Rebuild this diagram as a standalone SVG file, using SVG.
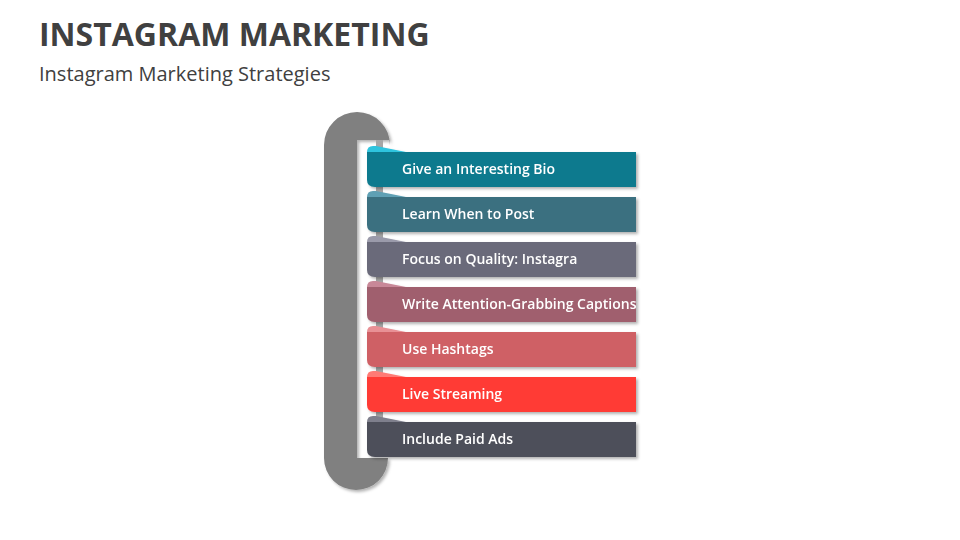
<svg xmlns="http://www.w3.org/2000/svg" width="960" height="540" viewBox="0 0 960 540">
<defs>
<filter id="sh" x="-10%" y="-10%" width="130%" height="130%"><feDropShadow dx="2" dy="2" stdDeviation="1.5" flood-color="#000" flood-opacity="0.3"/></filter>
<style>
.t{font-family:"Open Sans","Liberation Sans",sans-serif;font-size:14px;fill:#fff;font-weight:600}
.pin{fill:#a6a6a6}
</style>
</defs>
<rect width="960" height="540" fill="#fff"/>
<text x="39" y="46" font-family="'Open Sans','Liberation Sans',sans-serif" font-size="32" font-weight="700" fill="#404040">INSTAGRAM MARKETING</text>
<text x="39" y="81" font-family="'Open Sans','Liberation Sans',sans-serif" font-size="20" fill="#404040">Instagram Marketing Strategies</text>
<g id="bracket" filter="url(#sh)">
<path d="M324 145 A33 33 0 0 1 390 145 L390 140 L357 140 L357 458 L388 458 A32 32 0 0 1 324 458 Z" fill="#808080"/>
</g>
<g id="connectors">
<rect class="pin" x="376" y="140" width="7" height="14"/>
<rect class="pin" x="376" y="185" width="7" height="14"/>
<rect class="pin" x="376" y="230" width="7" height="14"/>
<rect class="pin" x="376" y="275" width="7" height="14"/>
<rect class="pin" x="376" y="320" width="7" height="14"/>
<rect class="pin" x="376" y="365" width="7" height="14"/>
<rect class="pin" x="376" y="410" width="7" height="14"/>
</g>
<g id="n1" filter="url(#sh)"><path d="M367 152 Q367 146 373 146 L376 146 L406 152 Z" fill="#2fc4de"/><path d="M367 152 L636 152 L636 187 L375 187 Q367 187 367 180 Z" fill="#0E7A8E"/><text class="t" x="402" y="174">Give an Interesting Bio</text></g>
<g id="n2" filter="url(#sh)"><path d="M367 197 Q367 191 373 191 L376 191 L406 197 Z" fill="#5fa0b4"/><path d="M367 197 L636 197 L636 232 L375 232 Q367 232 367 225 Z" fill="#3A6F80"/><text class="t" x="402" y="219">Learn When to Post</text></g>
<g id="n3" filter="url(#sh)"><path d="M367 242 Q367 236 373 236 L376 236 L406 242 Z" fill="#9a9aaa"/><path d="M367 242 L636 242 L636 277 L375 277 Q367 277 367 270 Z" fill="#6B6B7A"/><text class="t" x="402" y="264">Focus on Quality: Instagra</text></g>
<g id="n4" filter="url(#sh)"><path d="M367 287 Q367 281 373 281 L376 281 L406 287 Z" fill="#c88898"/><path d="M367 287 L636 287 L636 322 L375 322 Q367 322 367 315 Z" fill="#A05F6E"/><text class="t" x="402" y="309">Write Attention-Grabbing Captions</text></g>
<g id="n5" filter="url(#sh)"><path d="M367 332 Q367 326 373 326 L376 326 L406 332 Z" fill="#e89095"/><path d="M367 332 L636 332 L636 367 L375 367 Q367 367 367 360 Z" fill="#CF6065"/><text class="t" x="402" y="354">Use Hashtags</text></g>
<g id="n6" filter="url(#sh)"><path d="M367 377 Q367 371 373 371 L376 371 L406 377 Z" fill="#ff7a75"/><path d="M367 377 L636 377 L636 412 L375 412 Q367 412 367 405 Z" fill="#FF3B35"/><text class="t" x="402" y="399">Live Streaming</text></g>
<g id="n7" filter="url(#sh)"><path d="M367 422 Q367 416 373 416 L376 416 L406 422 Z" fill="#7e7f8c"/><path d="M367 422 L636 422 L636 457 L375 457 Q367 457 367 450 Z" fill="#4E4F5A"/><text class="t" x="402" y="444">Include Paid Ads</text></g>
</svg>
